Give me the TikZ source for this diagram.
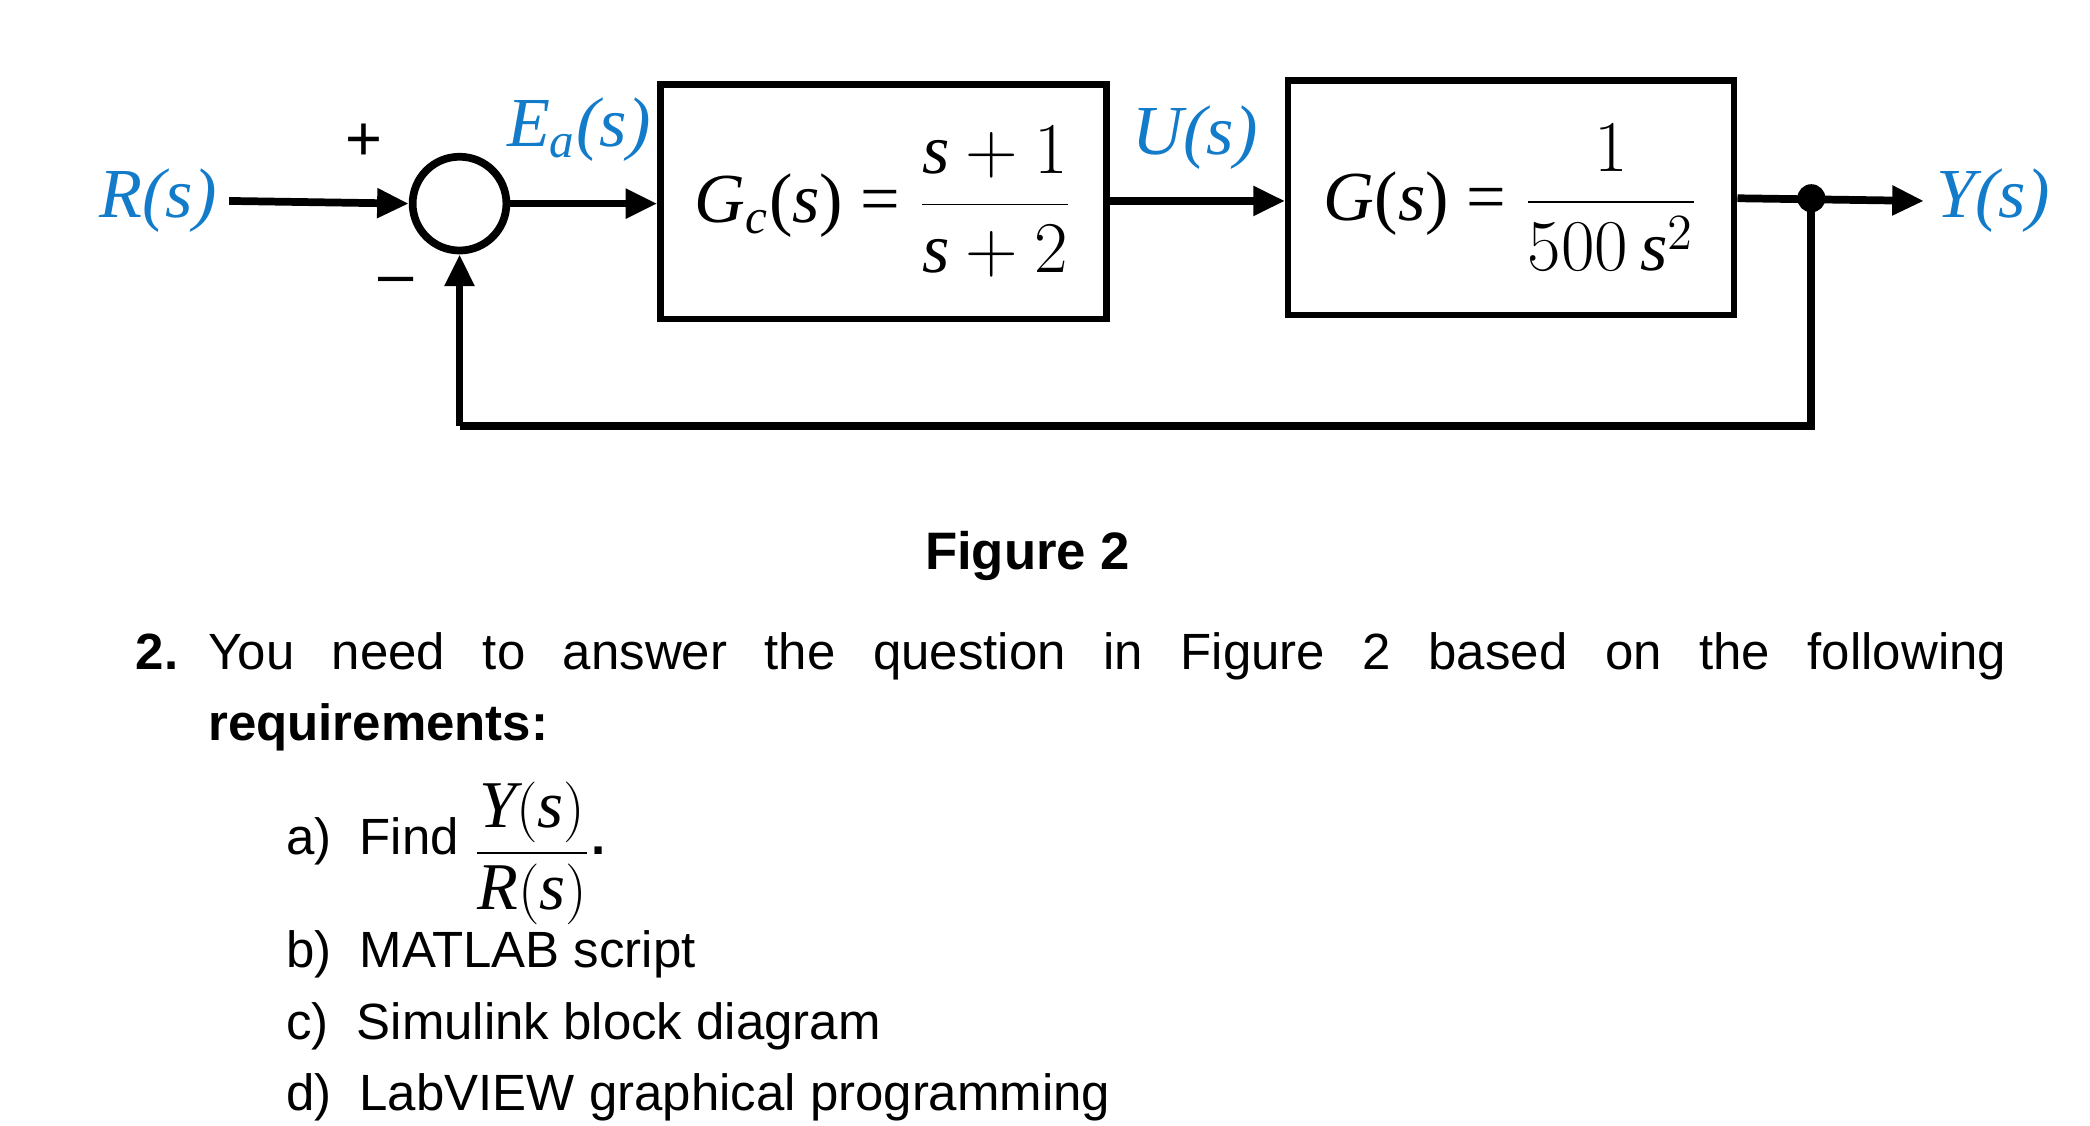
\documentclass[tikz,border=0pt]{standalone}
\usepackage{fontspec}
\setmainfont{Liberation Sans}
\newfontfamily\tms{Liberation Serif}
\usetikzlibrary{arrows.meta}
\begin{document}
\begin{tikzpicture}[x=0.0134cm,y=-0.0134cm,
  sig/.style={-{Triangle[length=9pt,width=8pt]},line width=2.2pt},
  ln/.style={line width=2.2pt},
  blk/.style={draw,line width=1.8pt,minimum width=333*0.0134cm,minimum height=175*0.0134cm,inner sep=2pt,font=\tms\fontsize{20}{24}\selectfont},
  lab/.style={text=cyan!60!blue,font=\tms\itshape\fontsize{20}{24}\selectfont},
  body/.style={font=\fontsize{14.5}{20}\selectfont}]
\useasboundingbox (0,0) rectangle (1560,840);
\node[lab] (R) at (118,150) {R(s)};
\node[circle,draw,line width=2.2pt,minimum size=70*0.0134cm,inner sep=0] (S) at (343,152) {};
\node[font=\fontsize{18}{20}\selectfont] (p) at (272,106) {+};
\node[font=\fontsize{18}{20}\selectfont] (m) at (296,214) {--};
\node[lab] (E) at (432,97) {E\textsubscript{\textit{a}}(s)};
\node[blk] (G1) at (659.5,150.5) {\textit{G\textsubscript{c}}(\textit{s}) = $\displaystyle\frac{\textit{s}+1}{\textit{s}+2}$};
\node[lab] (U) at (892,103) {U(s)};
\node[blk] (G2) at (1128,147.5) {\textit{G}(\textit{s}) = $\displaystyle\frac{1}{500\,\textit{s}^2}$};
\node[lab,anchor=west] (Y) at (1436,150) {Y(s)};
\coordinate (b) at (1352,148);
\coordinate (c1) at (1352,318);
\coordinate (c2) at (343,318);
\draw[sig] (R.east) -- (S.west);
\draw[sig] (S.east) -- (G1.west|-S);
\draw[sig] (G1.east|-0,150) -- (G2.west|-0,150);
\draw[sig] (G2.east|-b) -- (Y.west);
\fill (b) circle (4pt);
\draw[ln] (b) -- (c1) -- (c2);
\draw[sig] (c2) -- (S.south);
\node[font=\bfseries\fontsize{15}{18}\selectfont] (F) at (767,415) {Figure 2};
\node[body,font=\bfseries\fontsize{14.5}{20}\selectfont,anchor=base west] (n) at (92,500) {2.};
\node[body,anchor=base west,text width=1342*0.0134cm,align=justify,inner sep=0] (q) at (155,500) {\hyphenpenalty=10000 You need to answer the question in Figure 2 based on the following\linebreak \textbf{requirements:}};
\node[body,anchor=base west,inner sep=0] (a) at (213,638) {a)\ \ Find \raisebox{-0.5ex}{\tms\fontsize{19}{22}\selectfont$\displaystyle\frac{\textit{Y}(\textit{s})}{\textit{R}(\textit{s})}$}\textbf{.}};
\node[body,anchor=base west,inner sep=0] (bb) at (213,722) {b)\ \ MATLAB script};
\node[body,anchor=base west,inner sep=0] (c) at (213,776) {c)\ \ Simulink block diagram};
\node[body,anchor=base west,inner sep=0] (d) at (213,829) {d)\ \ LabVIEW graphical programming};
\end{tikzpicture}
\end{document}
